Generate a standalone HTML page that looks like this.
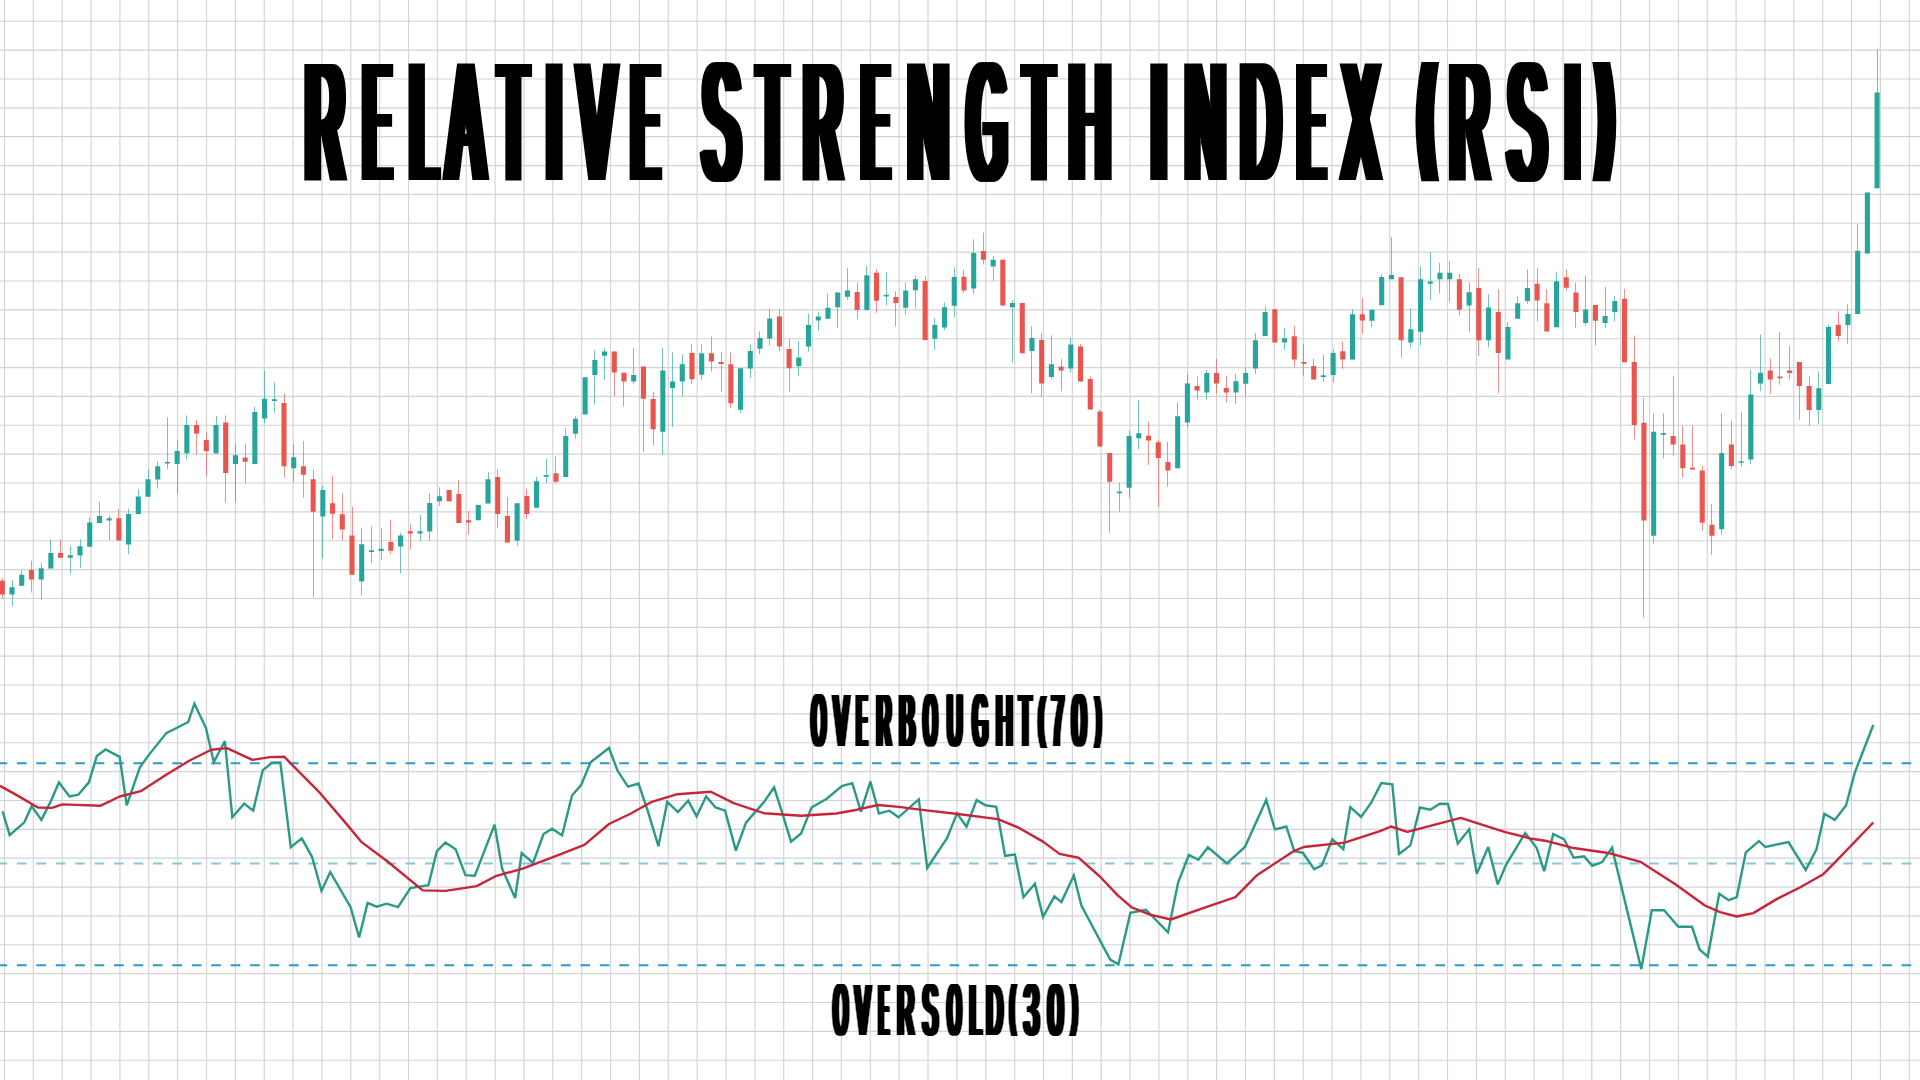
<!DOCTYPE html>
<html><head><meta charset="utf-8"><title>Relative Strength Index (RSI)</title>
<style>html,body{margin:0;padding:0;background:#fff;width:1920px;height:1080px;overflow:hidden}</style></head>
<body>
<svg width="1920" height="1080" viewBox="0 0 1920 1080" style="display:block">
<rect width="1920" height="1080" fill="#ffffff"/>
<path d="M4.50 0V1080M33.36 0V1080M62.22 0V1080M91.08 0V1080M119.94 0V1080M148.80 0V1080M177.66 0V1080M206.52 0V1080M235.38 0V1080M264.24 0V1080M293.10 0V1080M321.96 0V1080M350.82 0V1080M379.68 0V1080M408.54 0V1080M437.40 0V1080M466.26 0V1080M495.12 0V1080M523.98 0V1080M552.84 0V1080M581.70 0V1080M610.56 0V1080M639.42 0V1080M668.28 0V1080M697.14 0V1080M726.00 0V1080M754.86 0V1080M783.72 0V1080M812.58 0V1080M841.44 0V1080M870.30 0V1080M899.16 0V1080M928.02 0V1080M956.88 0V1080M985.74 0V1080M1014.60 0V1080M1043.46 0V1080M1072.32 0V1080M1101.18 0V1080M1130.04 0V1080M1158.90 0V1080M1187.76 0V1080M1216.62 0V1080M1245.48 0V1080M1274.34 0V1080M1303.20 0V1080M1332.06 0V1080M1360.92 0V1080M1389.78 0V1080M1418.64 0V1080M1447.50 0V1080M1476.36 0V1080M1505.22 0V1080M1534.08 0V1080M1562.94 0V1080M1591.80 0V1080M1620.66 0V1080M1649.52 0V1080M1678.38 0V1080M1707.24 0V1080M1736.10 0V1080M1764.96 0V1080M1793.82 0V1080M1822.68 0V1080M1851.54 0V1080M1880.40 0V1080M1909.26 0V1080M0 21.25H1920M0 50.11H1920M0 78.97H1920M0 107.83H1920M0 136.69H1920M0 165.55H1920M0 194.41H1920M0 223.27H1920M0 252.13H1920M0 280.99H1920M0 309.85H1920M0 338.71H1920M0 367.57H1920M0 396.43H1920M0 425.29H1920M0 454.15H1920M0 483.01H1920M0 511.87H1920M0 540.73H1920M0 569.59H1920M0 598.45H1920M0 627.31H1920M0 656.17H1920M0 685.03H1920M0 713.89H1920M0 742.75H1920M0 771.61H1920M0 800.47H1920M0 829.33H1920M0 858.19H1920M0 887.05H1920M0 915.91H1920M0 944.77H1920M0 973.63H1920M0 1002.49H1920M0 1031.35H1920M0 1060.21H1920" stroke="#d3d3d3" stroke-width="1.15" fill="none"/>
<path d="M12.5 580.2V606.1M21.5 569.8V585.7M41.5 562.7V599.6M50.5 539.3V568.5M70.5 545.8V573.7M80.5 539.3V567.9M89.5 517.3V546.7M99.5 501.8V522.9M109.5 515.4V540.0M128.5 508.9V554.3M138.5 488.8V514.0M148.5 469.8V496.8M157.5 461.4V488.6M167.5 417.3V469.2M177.5 440.6V493.8M186.5 415.4V459.4M216.5 416.0V453.6M235.5 443.9V502.2M254.5 406.9V464.0M264.5 370.6V423.1M274.5 382.3V412.8M293.5 443.9V482.1M322.5 485.3V558.5M361.5 528.0V595.5M371.5 526.1V563.0M381.5 528.0V559.8M400.5 532.6V573.4M420.5 515.1V541.0M429.5 493.0V541.0M439.5 487.2V506.0M478.5 505.1V520.3M488.5 472.3V503.4M517.5 503.3V545.6M536.5 476.5V507.7M546.5 459.0V483.0M565.5 428.5V477.1M575.5 416.2V438.5M585.5 377.3V414.5M594.5 350.5V404.1M604.5 348.1V379.9M633.5 348.1V384.4M662.5 348.1V454.4M672.5 352.3V427.2M682.5 354.6V396.1M701.5 344.3V379.9M740.5 368.2V413.0M750.5 344.3V378.0M759.5 331.3V354.0M769.5 309.0V345.4M798.5 341.3V375.8M808.5 313.5V351.7M818.5 312.2V331.0M827.5 293.4V318.7M837.5 292.5V327.8M847.5 268.1V299.9M866.5 265.6V309.9M886.5 272.0V305.7M905.5 283.0V314.8M915.5 275.9V308.3M934.5 318.0V349.8M944.5 302.5V330.4M954.5 267.3V316.9M973.5 239.3V293.7M993.5 256.1V280.7M1012.5 300.2V362.4M1031.5 326.3V393.2M1051.5 335.4V379.6M1070.5 337.6V372.5M1119.5 482.8V511.7M1129.5 430.7V497.8M1138.5 400.4V449.5M1177.5 402.3V468.3M1187.5 374.4V427.6M1206.5 370.0V399.5M1235.5 373.8V404.2M1245.5 367.9V395.8M1255.5 333.0V373.8M1265.5 306.5V336.0M1284.5 328.2V349.8M1323.5 354.5V382.1M1333.5 348.7V382.5M1352.5 309.0V359.6M1371.5 309.7V327.2M1381.5 274.1V305.2M1391.5 237.1V279.3M1410.5 308.4V347.3M1420.5 266.3V345.4M1430.5 252.0V300.0M1439.5 263.0V293.5M1449.5 261.1V301.9M1469.5 282.5V332.4M1488.5 294.2V347.3M1507.5 322.0V359.6M1517.5 296.1V318.8M1527.5 269.5V303.9M1556.5 272.1V327.2M1585.5 275.8V325.7M1605.5 286.9V327.7M1614.5 295.9V321.2M1653.5 413.3V543.5M1663.5 413.3V458.3M1721.5 413.3V534.5M1741.5 411.7V467.2M1750.5 369.8V464.4M1760.5 334.7V391.1M1818.5 371.7V423.5M1828.5 324.4V384.0M1847.5 304.3V343.8M1857.5 224.4V313.9M1867.5 192.5V253.6M1877.5 49.4V188.3" stroke="#26a69a" stroke-opacity="0.65" stroke-width="1" fill="none"/>
<path d="M9.46 587.3h5.1v7.1h-5.1zM19.18 574.7h5.1v11.0h-5.1zM38.61 568.2h5.1v11.3h-5.1zM48.32 553.0h5.1v15.5h-5.1zM67.75 555.2h5.1v2.6h-5.1zM77.46 546.2h5.1v9.3h-5.1zM87.18 522.5h5.1v24.2h-5.1zM96.89 516.0h5.1v6.9h-5.1zM106.60 518.2h5.1v2.3h-5.1zM126.03 514.0h5.1v30.5h-5.1zM135.75 496.6h5.1v17.4h-5.1zM145.46 479.3h5.1v17.5h-5.1zM155.17 466.2h5.1v13.3h-5.1zM164.89 462.0h5.1v1.6h-5.1zM174.60 451.0h5.1v13.0h-5.1zM184.32 425.1h5.1v28.2h-5.1zM213.46 425.1h5.1v28.5h-5.1zM232.89 455.3h5.1v8.7h-5.1zM252.31 412.1h5.1v51.9h-5.1zM262.03 398.8h5.1v19.8h-5.1zM271.74 399.2h5.1v1.9h-5.1zM291.17 457.2h5.1v11.0h-5.1zM320.31 490.0h5.1v26.4h-5.1zM359.17 544.3h5.1v37.3h-5.1zM368.88 550.3h5.1v1.6h-5.1zM378.60 548.8h5.1v2.2h-5.1zM398.02 535.4h5.1v11.2h-5.1zM417.45 531.3h5.1v2.3h-5.1zM427.17 503.0h5.1v28.5h-5.1zM436.88 496.3h5.1v4.9h-5.1zM475.74 505.1h5.1v15.2h-5.1zM485.45 479.2h5.1v24.2h-5.1zM514.59 503.3h5.1v37.4h-5.1zM534.02 481.2h5.1v26.5h-5.1zM543.73 474.9h5.1v1.8h-5.1zM563.16 436.0h5.1v41.1h-5.1zM572.88 418.7h5.1v15.0h-5.1zM582.59 377.3h5.1v37.2h-5.1zM592.30 360.1h5.1v15.0h-5.1zM602.02 351.4h5.1v4.3h-5.1zM631.16 375.1h5.1v6.5h-5.1zM660.30 370.6h5.1v61.1h-5.1zM670.02 381.6h5.1v6.5h-5.1zM679.73 364.3h5.1v17.3h-5.1zM699.16 353.3h5.1v21.4h-5.1zM738.01 368.2h5.1v41.5h-5.1zM747.73 351.0h5.1v17.6h-5.1zM757.44 338.0h5.1v10.8h-5.1zM767.16 318.4h5.1v20.1h-5.1zM796.30 357.4h5.1v8.9h-5.1zM806.01 324.9h5.1v21.7h-5.1zM815.73 316.4h5.1v4.2h-5.1zM825.44 307.7h5.1v11.0h-5.1zM835.15 292.5h5.1v14.8h-5.1zM844.87 290.4h5.1v6.3h-5.1zM864.30 275.3h5.1v34.6h-5.1zM883.72 294.7h5.1v1.7h-5.1zM903.15 290.4h5.1v17.3h-5.1zM912.87 279.2h5.1v11.0h-5.1zM932.29 324.9h5.1v13.9h-5.1zM942.01 307.3h5.1v20.2h-5.1zM951.72 277.0h5.1v28.8h-5.1zM971.15 252.9h5.1v35.6h-5.1zM990.58 259.7h5.1v6.8h-5.1zM1010.01 303.0h5.1v4.3h-5.1zM1029.43 338.1h5.1v12.9h-5.1zM1048.86 364.3h5.1v12.7h-5.1zM1068.29 344.4h5.1v24.2h-5.1zM1116.86 491.6h5.1v1.6h-5.1zM1126.57 436.1h5.1v51.7h-5.1zM1136.29 433.3h5.1v4.9h-5.1zM1175.14 416.2h5.1v52.1h-5.1zM1184.86 383.5h5.1v39.1h-5.1zM1204.29 372.9h5.1v19.6h-5.1zM1233.43 381.2h5.1v11.2h-5.1zM1243.14 372.9h5.1v10.9h-5.1zM1252.86 340.3h5.1v28.3h-5.1zM1262.57 311.9h5.1v24.1h-5.1zM1282.00 338.2h5.1v4.3h-5.1zM1320.85 375.3h5.1v1.6h-5.1zM1330.57 353.1h5.1v21.9h-5.1zM1350.00 314.3h5.1v45.3h-5.1zM1369.42 309.7h5.1v11.0h-5.1zM1379.14 277.1h5.1v28.1h-5.1zM1388.85 275.0h5.1v4.3h-5.1zM1408.28 329.2h5.1v13.3h-5.1zM1417.99 279.3h5.1v52.4h-5.1zM1427.71 281.6h5.1v2.2h-5.1zM1437.42 272.8h5.1v6.5h-5.1zM1447.14 272.8h5.1v6.5h-5.1zM1466.56 292.2h5.1v13.2h-5.1zM1485.99 307.5h5.1v32.7h-5.1zM1505.42 327.0h5.1v32.6h-5.1zM1515.13 303.2h5.1v15.6h-5.1zM1524.85 288.1h5.1v12.9h-5.1zM1553.99 281.2h5.1v46.0h-5.1zM1583.13 309.5h5.1v13.6h-5.1zM1602.56 316.0h5.1v6.9h-5.1zM1612.27 301.1h5.1v11.0h-5.1zM1651.13 431.7h5.1v104.1h-5.1zM1660.84 433.1h5.1v1.6h-5.1zM1719.13 453.1h5.1v76.2h-5.1zM1738.56 461.2h5.1v1.6h-5.1zM1748.27 394.4h5.1v65.0h-5.1zM1757.98 372.7h5.1v10.9h-5.1zM1816.27 388.3h5.1v21.6h-5.1zM1825.98 327.0h5.1v57.0h-5.1zM1845.41 314.0h5.1v11.0h-5.1zM1855.12 250.8h5.1v63.1h-5.1zM1864.84 192.5h5.1v61.1h-5.1zM1874.55 92.5h5.1v95.8h-5.1z" fill="#26a69a"/>
<path d="M2.5 578.2V599.0M31.5 560.7V592.5M60.5 539.3V557.8M118.5 508.9V540.6M196.5 419.9V454.3M206.5 432.2V475.6M225.5 415.4V502.2M245.5 443.6V483.4M284.5 393.3V477.6M303.5 441.0V497.7M313.5 469.7V597.4M332.5 475.6V539.0M342.5 493.4V541.0M352.5 506.7V574.7M390.5 519.6V554.0M410.5 524.2V549.4M449.5 490.0V501.2M458.5 480.0V522.9M468.5 511.2V534.5M497.5 469.0V527.6M507.5 497.0V542.6M526.5 488.9V519.3M555.5 456.4V483.6M614.5 351.4V396.1M623.5 372.8V406.5M643.5 366.6V451.8M653.5 392.2V445.4M691.5 344.3V383.8M711.5 336.5V371.5M721.5 352.3V391.6M730.5 352.3V407.8M779.5 309.0V351.4M789.5 338.9V391.7M857.5 283.0V319.3M876.5 269.4V312.9M895.5 291.5V326.5M925.5 275.9V340.1M963.5 269.7V293.0M983.5 232.5V264.5M1002.5 259.7V305.6M1022.5 303.0V353.3M1041.5 333.1V397.1M1061.5 359.0V391.3M1080.5 344.0V381.6M1090.5 376.4V409.4M1099.5 409.4V446.5M1109.5 453.1V532.8M1148.5 421.7V465.0M1158.5 440.2V506.7M1167.5 441.5V486.7M1197.5 376.4V399.3M1216.5 358.9V393.6M1226.5 376.2V402.5M1274.5 309.3V342.5M1294.5 325.9V367.4M1303.5 344.2V375.4M1313.5 358.8V379.6M1342.5 341.6V368.8M1362.5 298.0V333.7M1401.5 277.3V357.7M1459.5 274.1V315.5M1478.5 267.6V356.4M1498.5 289.0V393.0M1537.5 267.6V321.4M1546.5 289.0V331.4M1566.5 269.5V290.8M1575.5 282.4V327.8M1595.5 305.0V345.2M1624.5 288.8V362.3M1634.5 335.5V439.4M1643.5 397.8V617.4M1673.5 376.3V455.6M1682.5 425.6V477.8M1692.5 425.6V468.9M1702.5 465.6V530.6M1711.5 504.0V554.6M1731.5 420.6V468.9M1770.5 358.7V393.7M1779.5 332.1V384.6M1789.5 345.7V379.4M1799.5 362.0V419.6M1809.5 376.2V425.5M1838.5 311.4V341.2" stroke="#e9554f" stroke-opacity="0.65" stroke-width="1" fill="none"/>
<path d="M-0.25 580.8h5.1v13.6h-5.1zM28.89 570.0h5.1v9.5h-5.1zM58.03 553.0h5.1v4.8h-5.1zM116.32 518.2h5.1v22.4h-5.1zM194.03 425.1h5.1v8.4h-5.1zM203.74 440.0h5.1v11.0h-5.1zM223.17 422.5h5.1v50.5h-5.1zM242.60 457.6h5.1v4.2h-5.1zM281.46 403.0h5.1v63.2h-5.1zM300.88 466.2h5.1v8.5h-5.1zM310.60 479.2h5.1v32.6h-5.1zM330.03 503.2h5.1v10.6h-5.1zM339.74 514.2h5.1v15.4h-5.1zM349.45 535.6h5.1v39.1h-5.1zM388.31 541.9h5.1v8.8h-5.1zM407.74 531.3h5.1v2.3h-5.1zM446.59 490.0h5.1v11.2h-5.1zM456.31 494.0h5.1v28.9h-5.1zM466.02 520.3h5.1v2.2h-5.1zM495.16 477.0h5.1v37.0h-5.1zM504.88 516.1h5.1v26.5h-5.1zM524.31 496.1h5.1v18.0h-5.1zM553.45 473.2h5.1v8.5h-5.1zM611.73 351.4h5.1v21.1h-5.1zM621.45 372.8h5.1v8.8h-5.1zM640.87 366.6h5.1v32.1h-5.1zM650.59 399.0h5.1v30.2h-5.1zM689.44 353.1h5.1v26.2h-5.1zM708.87 353.3h5.1v8.1h-5.1zM718.59 362.1h5.1v1.9h-5.1zM728.30 364.3h5.1v38.9h-5.1zM776.87 316.4h5.1v30.2h-5.1zM786.58 349.0h5.1v19.3h-5.1zM854.58 292.1h5.1v17.8h-5.1zM874.01 272.7h5.1v28.1h-5.1zM893.44 296.9h5.1v6.2h-5.1zM922.58 281.1h5.1v59.0h-5.1zM961.44 276.8h5.1v13.7h-5.1zM980.86 250.9h5.1v8.8h-5.1zM1000.29 259.7h5.1v45.9h-5.1zM1019.72 303.0h5.1v50.3h-5.1zM1039.15 340.0h5.1v43.5h-5.1zM1058.58 366.4h5.1v4.2h-5.1zM1078.00 346.4h5.1v35.2h-5.1zM1087.72 379.0h5.1v30.4h-5.1zM1097.43 411.4h5.1v35.1h-5.1zM1107.15 453.1h5.1v28.6h-5.1zM1146.00 435.8h5.1v4.7h-5.1zM1155.72 442.2h5.1v15.7h-5.1zM1165.43 462.0h5.1v8.6h-5.1zM1194.57 386.1h5.1v4.5h-5.1zM1214.00 372.9h5.1v10.7h-5.1zM1223.71 387.9h5.1v4.6h-5.1zM1272.28 309.3h5.1v33.2h-5.1zM1291.71 336.3h5.1v23.3h-5.1zM1301.43 362.1h5.1v1.7h-5.1zM1311.14 366.0h5.1v13.6h-5.1zM1340.28 351.2h5.1v8.4h-5.1zM1359.71 314.3h5.1v6.2h-5.1zM1398.57 277.3h5.1v62.9h-5.1zM1456.85 279.3h5.1v30.4h-5.1zM1476.28 288.1h5.1v52.1h-5.1zM1495.71 311.9h5.1v41.0h-5.1zM1534.56 283.8h5.1v16.8h-5.1zM1544.28 303.2h5.1v28.2h-5.1zM1563.70 277.2h5.1v10.6h-5.1zM1573.42 292.4h5.1v19.6h-5.1zM1592.85 305.0h5.1v15.8h-5.1zM1621.99 298.8h5.1v63.5h-5.1zM1631.70 362.0h5.1v63.0h-5.1zM1641.42 422.8h5.1v97.7h-5.1zM1670.56 436.1h5.1v8.3h-5.1zM1680.27 444.4h5.1v23.9h-5.1zM1689.99 467.8h5.1v1.6h-5.1zM1699.70 470.6h5.1v52.2h-5.1zM1709.41 524.7h5.1v11.1h-5.1zM1728.84 444.4h5.1v21.7h-5.1zM1767.70 370.4h5.1v9.0h-5.1zM1777.41 376.6h5.1v1.6h-5.1zM1787.13 370.6h5.1v2.4h-5.1zM1796.84 362.0h5.1v23.9h-5.1zM1806.55 385.9h5.1v24.0h-5.1zM1835.70 324.7h5.1v11.3h-5.1z" fill="#e9554f"/>
<line x1="0" y1="763.25" x2="1920" y2="763.25" stroke="#2a9cc6" stroke-width="2.0" stroke-dasharray="9.7 9.73" stroke-dashoffset="2.53"/>
<line x1="0" y1="863.6" x2="1920" y2="863.6" stroke="#86c6dc" stroke-width="2.0" stroke-dasharray="9.7 9.73" stroke-dashoffset="2.53"/>
<line x1="0" y1="965.3" x2="1920" y2="965.3" stroke="#2a9ac4" stroke-width="2.0" stroke-dasharray="9.7 9.73" stroke-dashoffset="2.53"/>
<polyline points="2.6,811.4 9.7,835.2 24.3,822.3 31.7,806.1 41.4,819.9 51.0,800.9 58.9,782.4 69.5,796.5 78.3,794.7 88.9,782.4 96.8,756.0 105.6,749.5 119.7,756.9 126.7,805.3 139.9,767.4 148.7,755.1 166.3,733.1 188.3,722.0 194.4,703.7 205.9,727.8 213.8,762.1 224.9,741.0 232.3,817.2 244.2,803.6 253.2,810.6 262.7,770.4 271.8,762.8 280.3,762.4 290.8,847.3 301.8,838.3 312.0,856.8 321.5,890.9 330.2,872.0 350.6,907.1 359.1,937.5 367.6,902.9 376.6,906.7 386.6,903.7 398.0,907.1 410.4,888.1 428.4,885.2 436.9,851.1 445.5,842.5 455.6,849.2 465.4,875.2 474.8,875.8 494.6,824.6 502.1,868.6 515.1,898.0 521.7,853.0 533.1,862.9 543.5,834.0 552.1,828.7 562.1,835.4 572.0,795.5 581.1,785.1 590.6,762.3 609.0,748.0 617.6,770.8 628.0,786.6 638.5,783.5 648.0,811.6 658.4,846.2 667.3,801.8 678.0,812.0 688.2,800.6 696.6,816.4 706.1,796.5 715.6,807.5 725.1,810.7 735.9,850.6 746.0,822.7 755.5,811.6 764.0,802.1 774.1,787.3 783.0,815.4 791.0,841.6 801.1,833.5 811.5,807.5 826.7,798.7 841.9,786.0 852.3,783.2 860.9,811.6 870.4,781.6 878.9,813.5 889.4,810.7 898.5,817.3 918.8,799.3 927.2,868.0 947.0,838.1 957.0,813.4 966.5,826.7 976.6,800.1 985.5,805.3 996.3,806.8 1005.1,855.8 1014.9,854.6 1023.5,897.0 1034.9,883.7 1043.0,916.9 1054.4,896.4 1061.4,902.1 1073.8,875.5 1081.4,905.5 1110.2,959.6 1118.4,964.4 1130.4,912.7 1145.9,909.7 1168.0,932.4 1178.1,882.5 1188.9,854.9 1198.4,859.7 1207.9,847.3 1226.9,863.5 1244.9,847.0 1266.2,799.9 1274.9,829.3 1286.3,826.5 1294.3,851.1 1302.8,852.7 1314.2,869.2 1321.8,865.4 1332.3,839.4 1343.3,849.2 1350.3,807.1 1361.1,817.0 1371.2,802.7 1381.3,783.0 1392.3,784.3 1399.0,854.0 1410.4,845.4 1419.9,807.5 1430.3,809.7 1439.8,803.7 1448.0,804.0 1457.8,843.5 1469.2,829.3 1476.8,873.9 1488.2,847.0 1497.7,884.4 1506.3,864.4 1525.2,833.1 1536.6,847.7 1544.2,871.1 1553.2,834.0 1564.2,839.4 1573.7,857.8 1584.1,856.4 1592.3,865.9 1602.1,862.1 1612.0,847.7 1641.3,969.1 1651.8,910.2 1664.1,910.2 1678.4,926.8 1692.0,926.8 1699.6,949.5 1707.8,956.8 1719.2,893.7 1728.7,900.2 1736.8,897.0 1745.8,852.3 1759.0,841.0 1765.3,847.0 1788.5,842.0 1805.7,870.0 1816.5,849.3 1824.4,813.8 1834.8,819.9 1846.0,805.5 1855.0,772.0 1873.3,725.0" fill="none" stroke="#2a9a86" stroke-width="2.4" stroke-linejoin="miter" stroke-miterlimit="3"/>
<polyline points="0.0,785.9 17.6,795.6 37.8,807.5 51.9,807.9 62.5,804.4 100.3,805.8 119.7,796.5 140.8,791.2 165.4,775.3 188.3,761.3 211.2,749.8 227.0,748.1 252.4,759.9 269.9,757.1 284.1,756.7 320.2,793.2 347.7,825.4 361.0,841.6 387.6,861.5 422.7,890.4 445.5,890.9 476.7,886.1 496.5,875.8 522.7,868.6 554.9,856.3 584.4,844.9 609.0,824.0 630.9,813.5 651.8,801.8 677.4,794.2 710.9,791.7 733.7,803.1 764.0,813.2 801.1,815.8 836.2,813.5 857.1,809.7 878.0,805.0 898.8,806.9 920.0,809.6 958.0,814.0 997.8,819.1 1018.7,827.7 1043.4,841.9 1059.5,853.9 1078.5,857.7 1100.4,877.0 1117.5,895.1 1131.7,907.4 1150.0,914.7 1170.9,919.5 1203.2,908.1 1235.4,897.1 1257.3,874.9 1294.3,850.8 1303.8,847.0 1344.6,842.6 1380.0,831.2 1391.0,826.5 1407.5,831.8 1460.7,817.9 1505.3,832.1 1531.9,838.8 1545.2,840.7 1571.8,847.7 1610.0,853.3 1640.4,861.8 1674.6,883.7 1704.9,905.5 1720.1,912.1 1736.8,916.5 1753.3,913.1 1777.1,898.9 1799.9,887.5 1823.3,874.2 1833.3,864.2 1873.3,822.5" fill="none" stroke="#c8243a" stroke-width="2.4" stroke-linejoin="round"/>
<defs><filter id="d550" x="-0.1" y="-0.1" width="1.2" height="1.2"><feMorphology operator="dilate" radius="5.5 0"/></filter><filter id="d260" x="-0.1" y="-0.1" width="1.2" height="1.2"><feConvolveMatrix order="7 1" kernelMatrix="0.6 1.0 1.0 1.0 1.0 1.0 0.6" divisor="1" edgeMode="none" preserveAlpha="false"/></filter></defs>
<text aria-label="RELATIVE STRENGTH INDEX (RSI)" filter="url(#d550)" transform="matrix(1 0 0 1.68608 0 0)" fill="#000" font-family="Liberation Sans, sans-serif" font-size="100"><tspan y="106.88" x="305.89" textLength="37.95" lengthAdjust="spacingAndGlyphs">R</tspan><tspan y="106.88" x="364.61" textLength="25.10" lengthAdjust="spacingAndGlyphs">E</tspan><tspan y="106.88" x="410.67" textLength="25.98" lengthAdjust="spacingAndGlyphs">L</tspan><tspan y="106.88" x="447.90" textLength="35.61" lengthAdjust="spacingAndGlyphs">A</tspan><tspan y="106.88" x="499.69" textLength="27.33" lengthAdjust="spacingAndGlyphs">T</tspan><tspan y="106.88" x="546.55" textLength="15.19" lengthAdjust="spacingAndGlyphs">I</tspan><tspan y="106.88" x="579.01" textLength="35.72" lengthAdjust="spacingAndGlyphs">V</tspan><tspan y="106.88" x="632.62" textLength="25.41" lengthAdjust="spacingAndGlyphs">E</tspan> <tspan y="106.88" x="703.02" textLength="36.50" lengthAdjust="spacingAndGlyphs">S</tspan><tspan y="106.88" x="758.48" textLength="27.76" lengthAdjust="spacingAndGlyphs">T</tspan><tspan y="106.88" x="804.33" textLength="37.58" lengthAdjust="spacingAndGlyphs">R</tspan><tspan y="106.88" x="863.06" textLength="24.74" lengthAdjust="spacingAndGlyphs">E</tspan><tspan y="106.88" x="908.41" textLength="39.56" lengthAdjust="spacingAndGlyphs">N</tspan><tspan y="106.88" x="968.03" textLength="38.13" lengthAdjust="spacingAndGlyphs">G</tspan><tspan y="106.88" x="1025.08" textLength="27.87" lengthAdjust="spacingAndGlyphs">T</tspan><tspan y="106.88" x="1069.47" textLength="40.72" lengthAdjust="spacingAndGlyphs">H</tspan> <tspan y="106.88" x="1151.06" textLength="15.79" lengthAdjust="spacingAndGlyphs">I</tspan><tspan y="106.88" x="1185.82" textLength="39.43" lengthAdjust="spacingAndGlyphs">N</tspan><tspan y="106.88" x="1241.14" textLength="38.41" lengthAdjust="spacingAndGlyphs">D</tspan><tspan y="106.88" x="1298.90" textLength="24.37" lengthAdjust="spacingAndGlyphs">E</tspan><tspan y="106.88" x="1343.21" textLength="35.19" lengthAdjust="spacingAndGlyphs">X</tspan> <tspan x="1418.03" y="97.32" font-size="79.25" font-family="DejaVu Sans, sans-serif" font-weight="bold" textLength="18.45" lengthAdjust="spacingAndGlyphs">(</tspan><tspan y="106.88" x="1450.55" textLength="38.31" lengthAdjust="spacingAndGlyphs">R</tspan><tspan y="106.88" x="1508.25" textLength="37.42" lengthAdjust="spacingAndGlyphs">S</tspan><tspan y="106.88" x="1565.15" textLength="14.60" lengthAdjust="spacingAndGlyphs">I</tspan><tspan x="1595.00" y="97.32" font-size="79.25" font-family="DejaVu Sans, sans-serif" font-weight="bold" textLength="18.85" lengthAdjust="spacingAndGlyphs">)</tspan></text>
<text aria-label="OVERBOUGHT(70)" filter="url(#d260)" transform="matrix(1 0 0 0.73402 0 0)" fill="#000" font-family="Liberation Sans, sans-serif" font-size="100"><tspan y="1017.00" x="811.75" textLength="14.02" lengthAdjust="spacingAndGlyphs">O</tspan><tspan y="1017.00" x="834.00" textLength="14.49" lengthAdjust="spacingAndGlyphs">V</tspan><tspan y="1017.00" x="856.77" textLength="10.03" lengthAdjust="spacingAndGlyphs">E</tspan><tspan y="1017.00" x="876.98" textLength="14.23" lengthAdjust="spacingAndGlyphs">R</tspan><tspan y="1017.00" x="899.16" textLength="15.79" lengthAdjust="spacingAndGlyphs">B</tspan><tspan y="1017.00" x="923.79" textLength="13.33" lengthAdjust="spacingAndGlyphs">O</tspan><tspan y="1017.00" x="947.20" textLength="15.01" lengthAdjust="spacingAndGlyphs">U</tspan><tspan y="1017.00" x="972.83" textLength="15.01" lengthAdjust="spacingAndGlyphs">G</tspan><tspan y="1017.00" x="996.26" textLength="16.16" lengthAdjust="spacingAndGlyphs">H</tspan><tspan y="1017.00" x="1019.47" textLength="11.78" lengthAdjust="spacingAndGlyphs">T</tspan><tspan x="1038.68" y="1002.09" font-size="75.31" font-family="Liberation Sans, sans-serif" textLength="6.03" lengthAdjust="spacingAndGlyphs">(</tspan><tspan y="1017.00" x="1051.94" textLength="11.50" lengthAdjust="spacingAndGlyphs">7</tspan><tspan y="1017.00" x="1071.99" textLength="14.31" lengthAdjust="spacingAndGlyphs">0</tspan><tspan x="1095.81" y="1002.09" font-size="75.31" font-family="Liberation Sans, sans-serif" textLength="5.02" lengthAdjust="spacingAndGlyphs">)</tspan></text>
<text aria-label="OVERSOLD(30)" filter="url(#d260)" transform="matrix(1 0 0 0.73112 0 0)" fill="#000" font-family="Liberation Sans, sans-serif" font-size="100"><tspan y="1415.23" x="833.75" textLength="14.02" lengthAdjust="spacingAndGlyphs">O</tspan><tspan y="1415.23" x="855.50" textLength="14.69" lengthAdjust="spacingAndGlyphs">V</tspan><tspan y="1415.23" x="879.18" textLength="9.11" lengthAdjust="spacingAndGlyphs">E</tspan><tspan y="1415.23" x="897.75" textLength="16.30" lengthAdjust="spacingAndGlyphs">R</tspan><tspan y="1415.23" x="922.87" textLength="15.06" lengthAdjust="spacingAndGlyphs">S</tspan><tspan y="1415.23" x="947.69" textLength="13.33" lengthAdjust="spacingAndGlyphs">O</tspan><tspan y="1415.23" x="969.94" textLength="11.23" lengthAdjust="spacingAndGlyphs">L</tspan><tspan y="1415.23" x="986.80" textLength="15.85" lengthAdjust="spacingAndGlyphs">D</tspan><tspan x="1010.19" y="1400.32" font-size="75.32" font-family="Liberation Sans, sans-serif" textLength="4.90" lengthAdjust="spacingAndGlyphs">(</tspan><tspan y="1415.23" x="1023.96" textLength="15.13" lengthAdjust="spacingAndGlyphs">3</tspan><tspan y="1415.23" x="1047.93" textLength="15.24" lengthAdjust="spacingAndGlyphs">0</tspan><tspan x="1071.50" y="1400.32" font-size="75.32" font-family="Liberation Sans, sans-serif" textLength="5.78" lengthAdjust="spacingAndGlyphs">)</tspan></text>
</svg>
</body></html>
